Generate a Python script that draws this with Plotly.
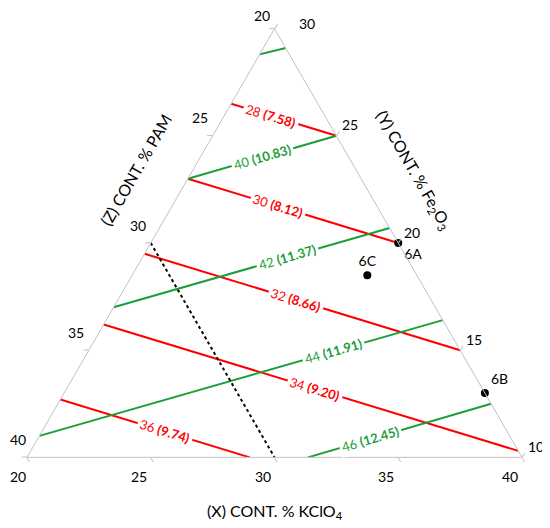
import math
import plotly.graph_objects as go

# ternary chart: X = KClO4 (bottom right), Y = Fe2O3 (top), Z = PAM (bottom left), X+Y+Z = 70
TOTAL = 70

# red contour lines, end points read as (X, Y)
red_levels = ["28", "30", "32", "34", "36"]
red_values = ["7.58", "8.12", "8.66", "9.20", "9.74"]
red_x0 = [20, 20, 20, 20, 20]
red_y0 = [26.5, 23.0, 19.5, 16.2, 12.7]
red_x1 = [25.0, 30.0, 35.0, 39.7, 29.0]
red_y1 = [25.0, 20.0, 15.0, 10.3, 10.0]

# green contour lines
green_levels = ["", "40", "42", "44", "46"]
green_values = ["", "10.83", "11.37", "11.91", "12.45"]
green_x0 = [20, 20, 20, 20, 31.35]
green_y0 = [28.8, 23.0, 17.0, 11.0, 10.0]
green_x1 = [20.9, 25.0, 29.3, 33.6, 37.5]
green_y1 = [29.1, 25.0, 20.7, 16.4, 12.5]

# dotted line at Z = 30
dot_x = [20, 30]
dot_y = [20, 10]

# formulations
pt_names = ["6A", "6B", "6C"]
pt_x = [30, 37, 29.5]
pt_y = [20, 13, 18.5]

# tick values
x_ticks = [20, 25, 30, 35, 40]
y_ticks = [10, 15, 20, 25, 30]
z_ticks = [20, 25, 30, 35, 40]

RED = "#ff0000"
GREEN = "#1a9e3a"
FONT = "Lato"

W, H = 550, 528
OFF = 8  # page body margin
dom_x = [(27 - OFF) / W, (522 - OFF) / W]
dom_y = [1 - (458 - OFF) / H, 1 - (28 - OFF) / H]


def zz(xs, ys):
    return [TOTAL - x - y for x, y in zip(xs, ys)]


# where a ternary point lands on the page (for rotated labels and tick labels)
tri_w = min((dom_x[1] - dom_x[0]) * W, (dom_y[1] - dom_y[0]) * H * 2 / math.sqrt(3))
tri_h = tri_w * math.sqrt(3) / 2
left = (dom_x[0] + dom_x[1]) / 2 * W - tri_w / 2
top = (1 - (dom_y[0] + dom_y[1]) / 2) * H - tri_h / 2


def to_px(x, y):
    a = (y - 10) / 20
    c = (x - 20) / 20
    return left + tri_w * (c + a / 2), top + tri_h * (1 - a)


def label(text, px, py, size=14, color="black", angle=0, bg=None):
    fig.add_annotation(
        x=px / W, y=1 - py / H, xref="paper", yref="paper",
        xanchor="center", yanchor="middle", text=text, showarrow=False,
        textangle=angle, bgcolor=bg, borderpad=2 if bg else 0,
        font=dict(family=FONT, size=size, color=color))


fig = go.Figure()


def add_lines(x0s, y0s, x1s, y1s, color, levels, values, label_pos):
    for i in range(len(x0s)):
        xs = [x0s[i], x1s[i]]
        ys = [y0s[i], y1s[i]]
        fig.add_trace(go.Scatterternary(
            a=ys, b=zz(xs, ys), c=xs, mode="lines",
            line=dict(color=color, width=2), hoverinfo="skip"))
        if not levels[i]:
            continue
        f = label_pos[i]
        px0, py0 = to_px(xs[0], ys[0])
        px1, py1 = to_px(xs[1], ys[1])
        ang = math.degrees(math.atan2(py1 - py0, px1 - px0))
        label(f"{levels[i]} <b>({values[i]})</b>",
              px0 + f * (px1 - px0), py0 + f * (py1 - py0),
              size=13, color=color, angle=ang, bg="white")


add_lines(red_x0, red_y0, red_x1, red_y1, RED, red_levels, red_values,
          [0.38, 0.43, 0.48, 0.51, 0.55])
add_lines(green_x0, green_y0, green_x1, green_y1, GREEN, green_levels, green_values,
          [0, 0.50, 0.63, 0.73, 0.34])

fig.add_trace(go.Scatterternary(
    a=dot_y, b=zz(dot_x, dot_y), c=dot_x, mode="lines",
    line=dict(color="black", width=2, dash="dot"), hoverinfo="skip"))

fig.add_trace(go.Scatterternary(
    a=pt_y, b=zz(pt_x, pt_y), c=pt_x, mode="markers+text",
    marker=dict(color="black", size=8), text=pt_names, cliponaxis=False,
    textposition=["bottom right", "top right", "top center"],
    textfont=dict(family=FONT, size=14, color="black")))

axis_style = dict(showgrid=False, linecolor="#c0c0c0", linewidth=1,
                  ticks="outside", ticklen=5, tickcolor="#c0c0c0",
                  showticklabels=False, title=dict(text=""))

fig.update_layout(
    width=W, height=H,
    margin=dict(l=0, r=0, t=0, b=0),
    paper_bgcolor="white",
    showlegend=False,
    font=dict(family=FONT, color="black"),
    ternary=dict(
        sum=TOTAL,
        domain=dict(x=dom_x, y=dom_y),
        bgcolor="white",
        aaxis=dict(min=10, tickmode="array", tickvals=y_ticks, **axis_style),
        baxis=dict(min=20, tickmode="array", tickvals=z_ticks, **axis_style),
        caxis=dict(min=20, tickmode="array", tickvals=x_ticks, **axis_style),
    ),
)

# tick labels: Z on the left edge, X on the bottom edge, Y on the right edge
# (kept a little inside the page so they are not cut at the edges)
for z in z_ticks:
    px, py = to_px(20, TOTAL - 20 - z)
    label(str(z), max(px - 13, 10), max(py - 18, 8))
for x in x_ticks:
    px, py = to_px(x, 10)
    label(str(x), max(px - 12, 10), py + 19)
for y in y_ticks:
    px, py = to_px(TOTAL - 20 - y, y)
    dx, dy = (32, -5) if y == max(y_ticks) else (14, -11)
    label(str(y), min(px + dx, W - OFF - 12), py + dy)

titles = [
    ("(X) CONT. % KClO<sub>4</sub>", 275, 511, 0),
    ("(Z) CONT. % PAM", 135, 170, -60),
    ("(Y) CONT. % Fe<sub>2</sub>O<sub>3</sub>", 414, 170, 60),
]
for text, tx, ty, ang in titles:
    label(text, tx - OFF, ty - OFF, size=16, angle=ang)

fig.write_html("out.html")
